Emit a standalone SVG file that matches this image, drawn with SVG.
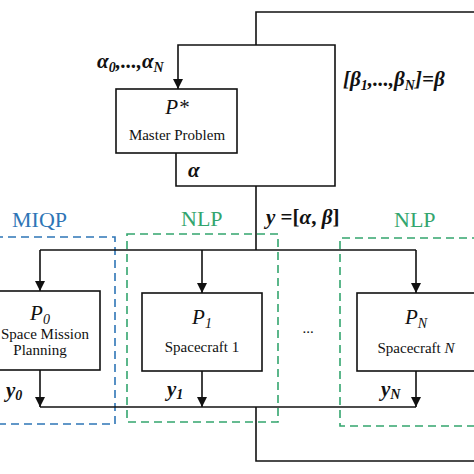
<svg xmlns="http://www.w3.org/2000/svg" width="474" height="474" viewBox="0 0 474 474">
<style>
  .ln{fill:none;stroke:#111;stroke-width:1.6}
  .box{fill:#fff;stroke:#111;stroke-width:1.6}
  .dblue{fill:none;stroke:#2E75B6;stroke-width:1.6;stroke-dasharray:8 5}
  .dgreen{fill:none;stroke:#33A56E;stroke-width:1.6;stroke-dasharray:8 5}
  text{font-family:'Liberation Serif','Times New Roman','DejaVu Serif',serif;fill:#111}
  .sm{font-size:15px}
  .pi{font-size:21px;font-style:italic}
  .lb{font-size:21px;font-style:italic;font-weight:bold}
  .cat{font-size:22px}
</style>
<defs>
  <marker id="ah" viewBox="0 0 10 10" refX="10" refY="5" markerWidth="10" markerHeight="10" markerUnits="userSpaceOnUse" orient="auto">
    <path d="M0,0 L10,5 L0,10 z" fill="#111"/>
  </marker>
</defs>
<rect width="474" height="474" fill="#fff"/>

<g id="groups">
  <g id="miqp-group">
    <path class="dblue" d="M-5 237 H115 V424 H-5"/>
    <text class="cat" x="12" y="227" style="fill:#2E75B6">MIQP</text>
  </g>
  <g id="nlp-group-1">
    <rect class="dgreen" x="127" y="234" width="151" height="188"/>
    <text class="cat" x="181" y="226" style="fill:#33A56E">NLP</text>
  </g>
  <g id="nlp-group-n">
    <path class="dgreen" d="M480 238 H340 V426 H480"/>
    <text class="cat" x="394" y="227" style="fill:#33A56E">NLP</text>
  </g>
</g>

<g id="connectors">
  <path class="ln" d="M474 12 H256 V45"/>
  <path class="ln" d="M176 153 V186 H335 V45 H178 V89" marker-end="url(#ah)"/>
  <path class="ln" d="M256 186 V250"/>
  <path class="ln" d="M40 250 H416"/>
  <path class="ln" d="M40 250 V291" marker-end="url(#ah)"/>
  <path class="ln" d="M202 250 V293" marker-end="url(#ah)"/>
  <path class="ln" d="M416 250 V293" marker-end="url(#ah)"/>
  <path class="ln" d="M40 370 V407" marker-end="url(#ah)"/>
  <path class="ln" d="M202 371 V407" marker-end="url(#ah)"/>
  <path class="ln" d="M416 371 V407" marker-end="url(#ah)"/>
  <path class="ln" d="M40 407 H416"/>
  <path class="ln" d="M256 407 V461 H474"/>
</g>

<g id="connector-labels">
  <text class="lb" x="97" y="68">α<tspan font-size="14" dy="4">0</tspan><tspan dy="-4">,...,α</tspan><tspan font-size="14" dy="4">N</tspan></text>
  <text class="lb" x="188" y="177">α</text>
  <text class="lb" x="343" y="86" font-style="normal">[<tspan font-style="italic">β</tspan><tspan font-size="14" font-style="italic" dy="4">1</tspan><tspan dy="-4">,...,</tspan><tspan font-style="italic">β</tspan><tspan font-size="14" font-style="italic" dy="4">N</tspan><tspan dy="-4">]=</tspan><tspan font-style="italic">β</tspan></text>
  <text class="lb" x="266" y="224">y <tspan font-style="normal">=[</tspan>α<tspan font-style="normal">, </tspan>β<tspan font-style="normal">]</tspan></text>
  <text class="lb" x="6" y="397">y<tspan font-size="14" dy="3">0</tspan></text>
  <text class="lb" x="167" y="396">y<tspan font-size="14" dy="3">1</tspan></text>
  <text class="lb" x="381" y="396">y<tspan font-size="14" dy="3">N</tspan></text>
</g>

<g id="master">
  <rect class="box" x="116" y="89" width="121" height="64"/>
  <text class="pi" x="177" y="114" text-anchor="middle">P*</text>
  <text class="sm" x="177" y="140" text-anchor="middle">Master Problem</text>
</g>

<g id="p0">
  <rect class="box" x="-20" y="291" width="120" height="79"/>
  <text class="pi" x="40" y="320" text-anchor="middle">P<tspan font-size="14" dy="4">0</tspan></text>
  <text class="sm" x="45" y="339" text-anchor="middle">Space Mission</text>
  <text class="sm" x="40" y="355" text-anchor="middle">Planning</text>
</g>

<g id="p1">
  <rect class="box" x="142" y="293" width="120" height="78"/>
  <text class="pi" x="202" y="324" text-anchor="middle">P<tspan font-size="14" dy="4">1</tspan></text>
  <text class="sm" x="202" y="352" text-anchor="middle">Spacecraft 1</text>
</g>

<g id="ellipsis">
  <text class="sm" x="308" y="333" text-anchor="middle">...</text>
</g>

<g id="pn">
  <rect class="box" x="357" y="293" width="130" height="78"/>
  <text class="pi" x="416" y="324" text-anchor="middle">P<tspan font-size="14" dy="4">N</tspan></text>
  <text class="sm" x="416" y="353" text-anchor="middle">Spacecraft <tspan font-style="italic">N</tspan></text>
</g>
</svg>
